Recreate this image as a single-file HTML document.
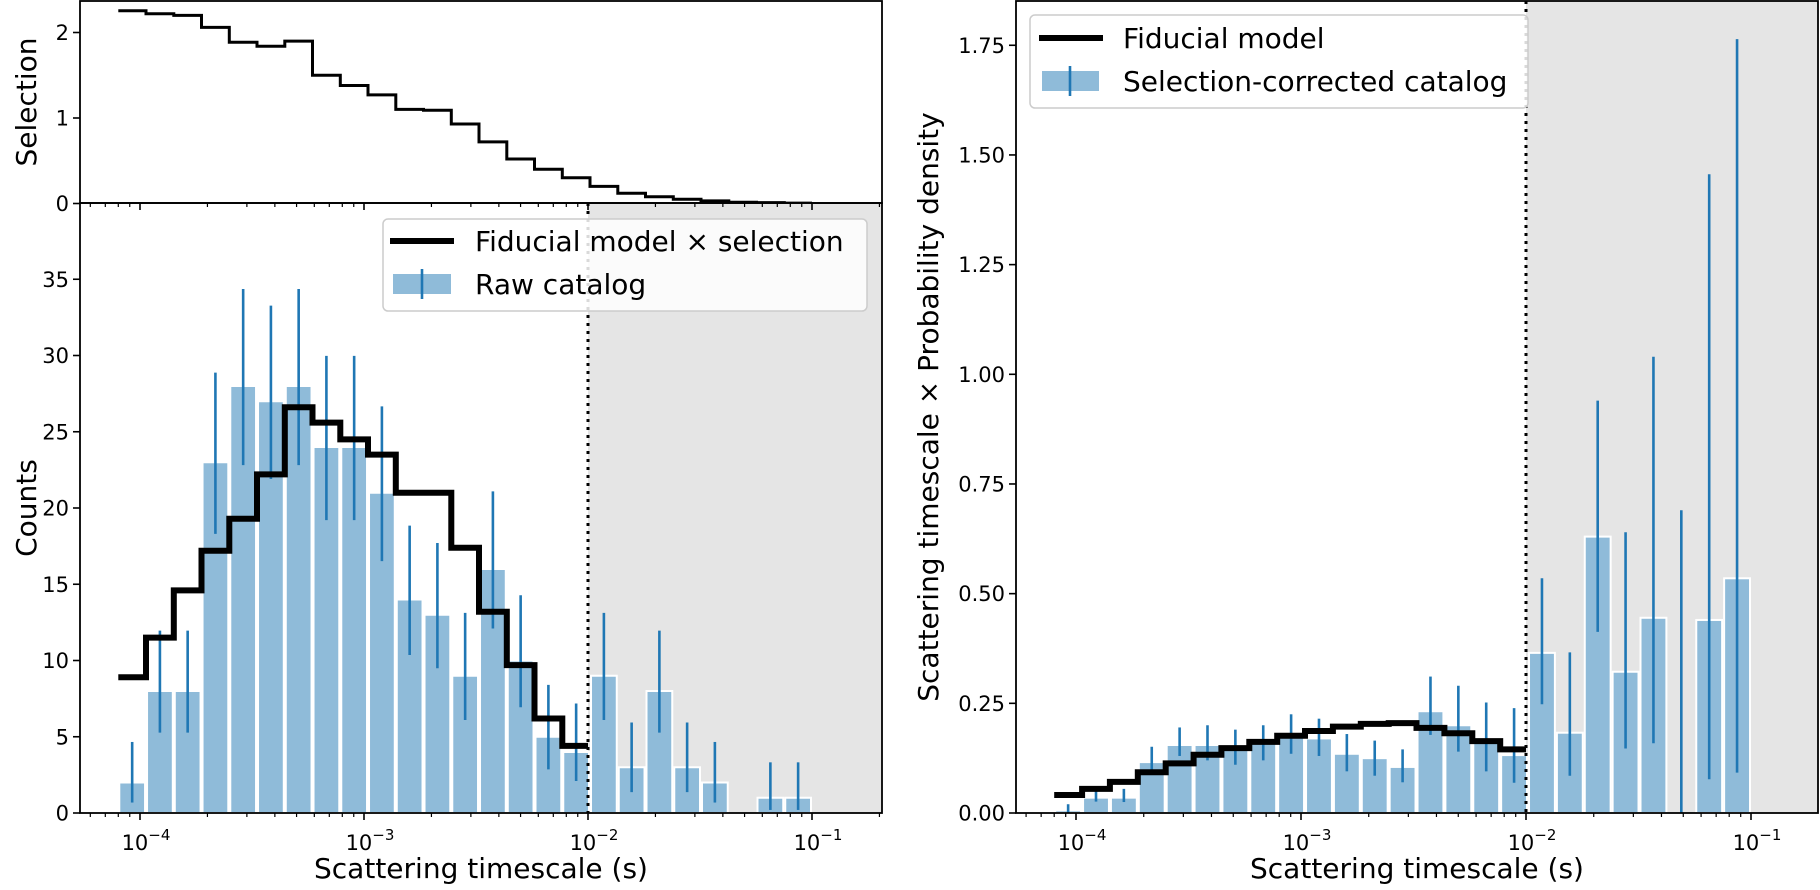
<!DOCTYPE html>
<html><head><meta charset="utf-8">
<style>
html,body{margin:0;padding:0;background:#fff;}
svg{display:block;font-family:"DejaVu Sans","Liberation Sans",sans-serif;}
</style></head>
<body>
<svg id="s" width="1820" height="890" xmlns="http://www.w3.org/2000/svg"></svg>
<script>
const S=document.getElementById('s');
let h='';
const L0=-4.0969, L1=-1, NB=25, DW=(L1-L0)/NB;
const edges=[];for(let k=0;k<=NB;k++)edges.push(L0+k*DW);
function xl(l){return 140+(l+4)*224;}
function xr(l){return 1076+(l+4)*225;}
function lg(v){return Math.log10(v);}
// ---------- LEFT TOP (selection) ----------
const yS=v=>203.5-v*85.5;
const sel=[2.255,2.22,2.2,2.06,1.885,1.84,1.9,1.5,1.38,1.27,1.1,1.09,0.93,0.72,0.52,0.4,0.3,0.2,0.12,0.08,0.05,0.03,0.015,0.01,0.005];
function stepPath(vals,xf,yf){let d='';for(let i=0;i<vals.length;i++){const x0=xf(edges[i]),x1=xf(edges[i+1]),y=yf(vals[i]);d+=(i==0?'M':'L')+x0.toFixed(1)+','+y.toFixed(1)+'L'+x1.toFixed(1)+','+y.toFixed(1);}return d;}
h+=`<path d="${stepPath(sel,xl,yS)}" fill="none" stroke="#000" stroke-width="3"/>`;
// ---------- LEFT BOTTOM ----------
const yC=v=>813-v*15.25;
h+=`<rect x="${xl(-2)}" y="203" width="${882-xl(-2)}" height="610" fill="#e5e5e5"/>`;
const cnt=[2,8,8,23,28,27,28,24,24,21,14,13,9,16,10,5,4,9,3,8,3,2,0,1,1];
for(let i=0;i<NB;i++){const n=cnt[i];if(!n)continue;const x0=xl(edges[i]),x1=xl(edges[i+1]);
h+=`<rect x="${x0+1}" y="${yC(n)}" width="${x1-x0-2}" height="${813-yC(n)}" fill="#8fbbd9" stroke="#fff" stroke-width="2"/>`;}
for(let i=0;i<NB;i++){const n=cnt[i];if(!n)continue;const xc=(xl(edges[i])+xl(edges[i+1]))/2;
const lo=Math.max(0.2,n-Math.sqrt(n)+0.1),hi=n+Math.sqrt(n+0.75)+1;
h+=`<line x1="${xc}" x2="${xc}" y1="${yC(lo)}" y2="${yC(hi)}" stroke="#1f77b4" stroke-width="2.6"/>`;}
const modL=[8.9,11.5,14.6,17.2,19.3,22.2,26.6,25.6,24.5,23.5,21,21,17.4,13.2,9.7,6.2,4.4];
let dL=stepPath(modL,xl,yC).replace(/L([\d.]+),([\d.]+)$/,`L${xl(-2)},$2`);
h+=`<path d="${dL}" fill="none" stroke="#000" stroke-width="6"/>`;
h+=`<line x1="${xl(-2)}" x2="${xl(-2)}" y1="203" y2="813" stroke="#000" stroke-width="3" stroke-dasharray="3,5"/>`;
// legend left
h+=`<rect x="383" y="219" width="484" height="92" rx="5" fill="#fff" fill-opacity="0.85" stroke="#ccc" stroke-width="1.5"/>`;
h+=`<line x1="390" x2="454" y1="241" y2="241" stroke="#000" stroke-width="6"/>`;
h+=`<text x="475" y="251" font-size="28">Fiducial model × selection</text>`;
h+=`<rect x="393" y="274" width="58" height="20" fill="#8fbbd9"/><line x1="422" x2="422" y1="269" y2="299" stroke="#1f77b4" stroke-width="2.6"/>`;
h+=`<text x="475" y="294" font-size="28">Raw catalog</text>`;
// ---------- RIGHT ----------
const yP=v=>813-v*438.7;
h+=`<rect x="${xr(-2)}" y="1" width="${1818-xr(-2)}" height="812" fill="#e5e5e5"/>`;
const pd=[0.006,0.035,0.035,0.116,0.155,0.155,0.155,0.16,0.18,0.17,0.135,0.125,0.105,0.232,0.2,0.166,0.132,0.365,0.183,0.63,0.322,0.445,0,0.44,0.535];
const eLo=[0,0.026,0.025,0.091,0.13,0.12,0.11,0.12,0.135,0.13,0.095,0.085,0.07,0.178,0.14,0.095,0.069,0.248,0.085,0.413,0.147,0.159,0,0.077,0.092];
const eHi=[0.02,0.049,0.055,0.151,0.195,0.2,0.19,0.2,0.225,0.215,0.18,0.165,0.145,0.311,0.29,0.252,0.239,0.535,0.366,0.94,0.64,1.04,0.69,1.456,1.764];
for(let i=0;i<NB;i++){const v=pd[i];if(!v)continue;const x0=xr(edges[i]),x1=xr(edges[i+1]);
h+=`<rect x="${x0+1}" y="${yP(v)}" width="${x1-x0-2}" height="${813-yP(v)}" fill="#8fbbd9" stroke="#fff" stroke-width="2"/>`;}
for(let i=0;i<NB;i++){const xc=(xr(edges[i])+xr(edges[i+1]))/2;
h+=`<line x1="${xc}" x2="${xc}" y1="${yP(eLo[i])}" y2="${yP(eHi[i])}" stroke="#1f77b4" stroke-width="2.6"/>`;}
const modR=[0.041,0.055,0.071,0.093,0.113,0.133,0.148,0.162,0.176,0.187,0.197,0.203,0.205,0.194,0.182,0.164,0.145];
let dR=stepPath(modR,xr,yP).replace(/L([\d.]+),([\d.]+)$/,`L${xr(-2)},$2`);
h+=`<path d="${dR}" fill="none" stroke="#000" stroke-width="6"/>`;
h+=`<line x1="${xr(-2)}" x2="${xr(-2)}" y1="1" y2="813" stroke="#000" stroke-width="3" stroke-dasharray="3,5"/>`;
// legend right
h+=`<rect x="1030" y="15" width="498" height="93" rx="5" fill="#fff" fill-opacity="0.85" stroke="#ccc" stroke-width="1.5"/>`;
h+=`<line x1="1039" x2="1103" y1="38" y2="38" stroke="#000" stroke-width="6"/>`;
h+=`<text x="1123" y="48" font-size="28">Fiducial model</text>`;
h+=`<rect x="1042" y="71" width="57" height="20" fill="#8fbbd9"/><line x1="1070" x2="1070" y1="66" y2="96" stroke="#1f77b4" stroke-width="2.6"/>`;
h+=`<text x="1123" y="91" font-size="28">Selection-corrected catalog</text>`;
// ---------- AXES FRAMES & TICKS ----------
function frame(x0,y0,x1,y1){return `<rect x="${x0}" y="${y0}" width="${x1-x0}" height="${y1-y0}" fill="none" stroke="#000" stroke-width="1.8"/>`;}
h+=frame(80,1,882,203)+frame(80,203,882,813)+frame(1016,1,1818,813);
function xticks(xf,ax0,ax1,yb,labels){
 for(let e=-5;e<=0;e++){for(let m=1;m<=9;m++){const l=e+Math.log10(m);const x=xf(l);if(x<ax0-0.5||x>ax1+0.5)continue;
  const len=m==1?7:4;h+=`<line x1="${x}" x2="${x}" y1="${yb}" y2="${yb+len}" stroke="#000" stroke-width="${m==1?1.6:1.2}"/>`;
  if(m==1&&labels)h+=`<text x="${x+6}" y="${yb+37}" font-size="21" text-anchor="middle">10<tspan dy="-10" font-size="15">−${-e}</tspan></text>`;}}}
xticks(xl,80,882,203,false);xticks(xl,80,882,813,true);xticks(xr,1016,1818,813,true);
function yt(x,y,lab){h+=`<line x1="${x-7}" x2="${x}" y1="${y}" y2="${y}" stroke="#000" stroke-width="1.6"/><text x="${x-11}" y="${y+7.5}" font-size="21" text-anchor="end">${lab}</text>`;}
[0,1,2].forEach(v=>yt(80,yS(v),v));
[0,5,10,15,20,25,30,35].forEach(v=>yt(80,yC(v),v));
for(let v=0;v<=1.75;v+=0.25)yt(1016,yP(v),v.toFixed(2));
// axis labels
h+=`<text transform="translate(36,102) rotate(-90)" font-size="28" text-anchor="middle">Selection</text>`;
h+=`<text transform="translate(36,508) rotate(-90)" font-size="28" text-anchor="middle">Counts</text>`;
h+=`<text transform="translate(938,407) rotate(-90)" font-size="28" text-anchor="middle">Scattering timescale × Probability density</text>`;
h+=`<text x="481" y="878" font-size="28" text-anchor="middle">Scattering timescale (s)</text>`;
h+=`<text x="1417" y="878" font-size="28" text-anchor="middle">Scattering timescale (s)</text>`;
S.innerHTML=h;
</script>
</body></html>
